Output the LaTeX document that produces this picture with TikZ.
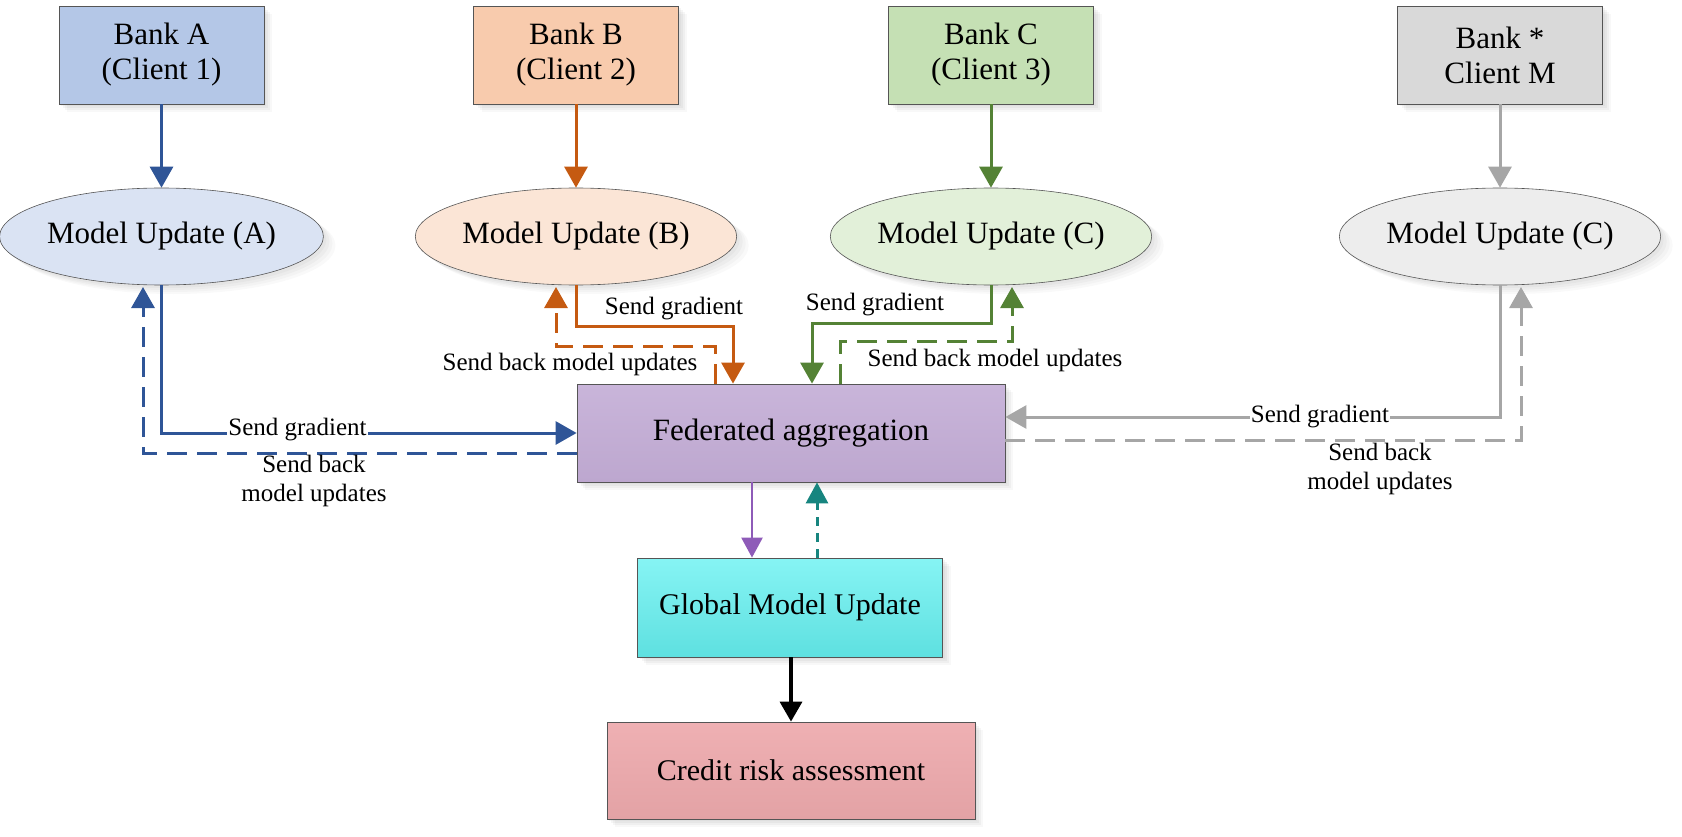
\documentclass[tikz,border=0pt]{standalone}
\usepackage{fontspec}
\setmainfont{Liberation Serif}
\usetikzlibrary{arrows.meta,shapes.geometric,shadows,calc}
\definecolor{bordc}{HTML}{555555}
\definecolor{bankA}{HTML}{B4C7E7}
\definecolor{ellA}{HTML}{DAE3F3}
\definecolor{lnA}{HTML}{2F5597}
\definecolor{bankB}{HTML}{F8CBAD}
\definecolor{ellB}{HTML}{FBE5D6}
\definecolor{lnB}{HTML}{C55A11}
\definecolor{bankC}{HTML}{C5E0B4}
\definecolor{ellC}{HTML}{E2F0D9}
\definecolor{lnC}{HTML}{548235}
\definecolor{bankD}{HTML}{D9D9D9}
\definecolor{ellD}{HTML}{EDEDED}
\definecolor{lnD}{HTML}{A6A6A6}
\definecolor{fedtop}{HTML}{C9B5DA}
\definecolor{fedbot}{HTML}{BDA7CF}
\definecolor{lnP}{HTML}{8E5BB8}
\definecolor{lnT}{HTML}{17857F}
\definecolor{glotop}{HTML}{86F4F4}
\definecolor{globot}{HTML}{5EE0E0}
\definecolor{credtop}{HTML}{EFB0B3}
\definecolor{credbot}{HTML}{E3A2A5}
\begin{document}
\begin{tikzpicture}[x=1pt,y=-1pt,
  bigfont/.style={font=\fontsize{31}{35}\selectfont},
  softbox/.style={
     drop shadow={shadow xshift=2pt,shadow yshift=-2pt,opacity=0.08},
     drop shadow={shadow xshift=4pt,shadow yshift=-4pt,opacity=0.08},
     drop shadow={shadow xshift=6pt,shadow yshift=-6pt,opacity=0.07},
     drop shadow={shadow xshift=8pt,shadow yshift=-8pt,opacity=0.06}},
  softell/.style={
     drop shadow={shadow xshift=3pt,shadow yshift=-3pt,opacity=0.06},
     drop shadow={shadow xshift=6pt,shadow yshift=-5pt,opacity=0.06},
     drop shadow={shadow xshift=9pt,shadow yshift=-7pt,opacity=0.05},
     drop shadow={shadow xshift=12pt,shadow yshift=-9pt,opacity=0.05}},
  bankbox/.style={draw=bordc, line width=0.8pt, minimum width=205pt, minimum height=98pt,
     align=center, inner sep=0pt, bigfont, softbox},
  upell/.style={ellipse, draw=bordc, line width=0.6pt, minimum width=310pt, minimum height=97pt,
     inner sep=0pt, bigfont, softell},
  flowbox/.style={draw=bordc, line width=0.8pt, inner sep=0pt, softbox},
  lab/.style={font=\fontsize{25}{29}\selectfont, inner sep=1pt, align=center},
  conn/.style={line width=3pt, -{Triangle[width=23pt,length=21pt]}},
  dsh/.style={dash pattern=on 20pt off 10pt}
]
\path[use as bounding box] (0,0) rectangle (1682,837);

% bank boxes
\node[bankbox, fill=bankA] (bA) at (161.5,55) {Bank A\\(Client 1)};
\node[bankbox, fill=bankB] (bB) at (576,55) {Bank B\\(Client 2)};
\node[bankbox, fill=bankC] (bC) at (991,55) {Bank C\\(Client 3)};
\node[bankbox, fill=bankD] (bD) at (1500,55) {Bank *\\Client M};

% model update ellipses
\node[upell, fill=ellA] (eA) at (161.5,236.5) {Model Update (A)};
\node[upell, fill=ellB] (eB) at (576,236.5) {Model Update (B)};
\node[upell, fill=ellC] (eC) at (991,236.5) {Model Update (C)};
\node[upell, fill=ellD] (eD) at (1500,236.5) {Model Update (C)};

% central boxes
\node[flowbox, top color=fedtop, bottom color=fedbot, minimum width=428pt, minimum height=98pt, bigfont] (fed) at (791,433) {Federated aggregation};
\node[flowbox, top color=glotop, bottom color=globot, minimum width=305pt, minimum height=99pt,
      font=\fontsize{30}{34}\selectfont] (gl) at (790,607.5) {Global Model Update};
\node[flowbox, top color=credtop, bottom color=credbot, minimum width=368pt, minimum height=97pt,
      font=\fontsize{30}{34}\selectfont] (cr) at (791,770.5) {Credit risk assessment};

% bank -> ellipse
\draw[conn, lnA] (bA) -- (eA);
\draw[conn, lnB] (bB) -- (eB);
\draw[conn, lnC] (bC) -- (eC);
\draw[conn, lnD] (bD) -- (eD);

% client A
\draw[conn, lnA] (eA.south) -- (161.5,433) -- (fed.west |- 0,433);
\draw[conn, lnA, dsh] (fed.west |- 0,453) -- (143,453) -- (143,287);
% client B
\draw[conn, lnB] (eB.south) -- (576,326) -- (733,326) -- (733,0 |- fed.north);
\draw[conn, lnB, dsh] (715,0 |- fed.north) -- (715,346) -- (556,346) -- (556,287);
% client C
\draw[conn, lnC] (eC.south) -- (991,323) -- (812,323) -- (812,0 |- fed.north);
\draw[conn, lnC, dsh] (840,0 |- fed.north) -- (840,341) -- (1012,341) -- (1012,287);
% client M
\draw[conn, lnD] (eD.south) -- (1500,417) -- (fed.east |- 0,417);
\draw[conn, lnD, dsh] (fed.east |- 0,440) -- (1521,440) -- (1521,287);

% fed <-> global
\draw[lnP, line width=2.5pt, -{Triangle[width=21pt,length=20pt]}] (752,0 |- fed.south) -- (752,0 |- gl.north);
\draw[lnT, line width=3pt, dash pattern=on 9pt off 7pt, -{Triangle[width=22pt,length=21pt]}] (817,0 |- gl.north) -- (817,0 |- fed.south);
% global -> credit
\draw[black, line width=3.5pt, -{Triangle[width=22pt,length=20pt]}] (791,0 |- gl.south) -- (791,0 |- cr.north);

% labels
\node[lab, fill=white, anchor=base] (lA1) at (297.5,435) {Send gradient};
\node[lab] (lA2) at (314,481) {Send back\\model updates};
\node[lab] (lB1) at (674,309) {Send gradient};
\node[lab] (lB2) at (570,364) {Send back model updates};
\node[lab, fill=white] (lC1) at (875,305) {Send gradient};
\node[lab] (lC2) at (995,360) {Send back model updates};
\node[lab, fill=white] (lD1) at (1320,417) {Send gradient};
\node[lab] (lD2) at (1380,469) {Send back\\model updates};
\end{tikzpicture}
\end{document}
